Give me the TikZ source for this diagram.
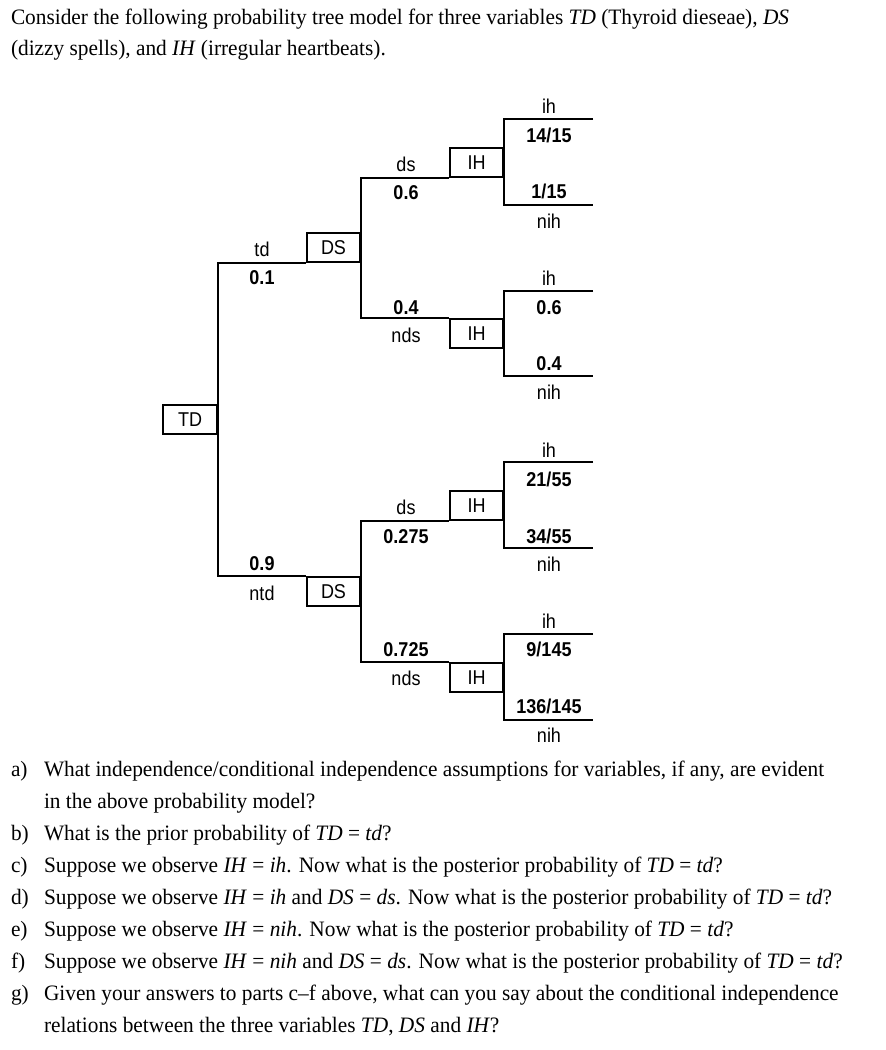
\documentclass[tikz,border=0pt]{standalone}
\usepackage{fontspec}
\setmainfont[FakeStretch=0.97]{Liberation Serif}
\newfontfamily\treefont[FakeStretch=0.9]{Liberation Sans}
\begin{document}
\begin{tikzpicture}[x=1pt, y=-1pt, line width=2pt,
    varbox/.style={draw, rectangle, minimum width=53pt, minimum height=29pt, inner sep=0pt,
      font=\treefont\fontsize{20}{20}\selectfont},
    lbl/.style={inner sep=0pt, text height=14pt, text depth=0pt,
      font=\treefont\fontsize{20}{20}\selectfont},
    prob/.style={lbl, font=\treefont\bfseries\fontsize{20}{20}\selectfont},
    body/.style={anchor=base west, inner sep=0pt, font=\fontsize{22}{32}\selectfont}]
\useasboundingbox (0,0) rectangle (886,1050);

% intro text
\node[body] (intro1) at (10,24) {Consider the following probability tree model for three variables \textit{TD} (Thyroid dieseae), \textit{DS}};
\node[body] (intro2) at (10,55) {(dizzy spells), and \textit{IH} (irregular heartbeats).};

% variable boxes
\node[varbox, minimum width=54pt] (td) at (190,419.5) {TD};
\node[varbox] (dsA) at (333.5,247.5) {DS};
\node[varbox] (dsB) at (333.5,591.5) {DS};
\node[varbox] (ihA) at (476.5,162.5) {IH};
\node[varbox] (ihB) at (476.5,333.5) {IH};
\node[varbox] (ihC) at (476.5,505.5) {IH};
\node[varbox] (ihD) at (476.5,677.5) {IH};

% leaf ends
\coordinate (leafA1) at (593,119);
\coordinate (leafA2) at (593,205);
\coordinate (leafB1) at (593,291);
\coordinate (leafB2) at (593,376);
\coordinate (leafC1) at (593,462);
\coordinate (leafC2) at (593,548);
\coordinate (leafD1) at (593,634);
\coordinate (leafD2) at (593,720);

% branches
\draw (dsA.south west) -| (td.east) |- (dsB.north west);
\draw (ihA.south west) -| (dsA.south east) |- (ihB.north west);
\draw (ihC.south west) -| (dsB.north east) |- (ihD.north west);
\draw (leafA1) -| (ihA.south east) |- (leafA2);
\draw (leafB1) -| (ihB.north east) |- (leafB2);
\draw (leafC1) -| (ihC.south east) |- (leafC2);
\draw (leafD1) -| (ihD.north east) |- (leafD2);

% TD labels
\node[lbl] (ltd) at (262,249) {td};
\node[prob] (ptd) at (262,277) {0.1};
\node[prob] (pntd) at (262,563) {0.9};
\node[lbl] (lntd) at (262,593) {ntd};

% DS labels
\node[lbl] (ldsA) at (406,164) {ds};
\node[prob] (pdsA) at (406,192) {0.6};
\node[prob] (pndsA) at (406,307) {0.4};
\node[lbl] (lndsA) at (406,335) {nds};
\node[lbl] (ldsB) at (406,507) {ds};
\node[prob] (pdsB) at (406,536) {0.275};
\node[prob] (pndsB) at (406,649) {0.725};
\node[lbl] (lndsB) at (406,678) {nds};

% IH labels
\node[lbl] (lihA) at (549,106) {ih};
\node[prob] (pihA) at (549,135) {14/15};
\node[prob] (pnihA) at (549,191) {1/15};
\node[lbl] (lnihA) at (549,221) {nih};
\node[lbl] (lihB) at (549,278) {ih};
\node[prob] (pihB) at (549,307) {0.6};
\node[prob] (pnihB) at (549,363) {0.4};
\node[lbl] (lnihB) at (549,392) {nih};
\node[lbl] (lihC) at (549,450) {ih};
\node[prob] (pihC) at (549,479) {21/55};
\node[prob] (pnihC) at (549,536) {34/55};
\node[lbl] (lnihC) at (549,564) {nih};
\node[lbl] (lihD) at (549,621) {ih};
\node[prob] (pihD) at (549,649) {9/145};
\node[prob] (pnihD) at (549,706) {136/145};
\node[lbl] (lnihD) at (549,735) {nih};

% questions
\node[body] (qa) at (10,776) {a)};
\node[body] (ta) at (43,776) {What independence/conditional independence assumptions for variables, if any, are evident};
\node[body] (ta2) at (43,808) {in the above probability model?};
\node[body] (qb) at (10,840) {b)};
\node[body] (tb) at (43,840) {What is the prior probability of \textit{TD} = \textit{td}?};
\node[body] (qc) at (10,872) {c)};
\node[body] (tc) at (43,872) {Suppose we observe \textit{IH} = \textit{ih}. Now what is the posterior probability of \textit{TD} = \textit{td}?};
\node[body] (qd) at (10,904) {d)};
\node[body] (td2) at (43,904) {Suppose we observe \textit{IH} = \textit{ih} and \textit{DS} = \textit{ds}. Now what is the posterior probability of \textit{TD} = \textit{td}?};
\node[body] (qe) at (10,936) {e)};
\node[body] (te) at (43,936) {Suppose we observe \textit{IH} = \textit{nih}. Now what is the posterior probability of \textit{TD} = \textit{td}?};
\node[body] (qf) at (10,968) {f)};
\node[body] (tf) at (43,968) {Suppose we observe \textit{IH} = \textit{nih} and \textit{DS} = \textit{ds}. Now what is the posterior probability of \textit{TD} = \textit{td}?};
\node[body] (qg) at (10,1000) {g)};
\node[body] (tg) at (43,1000) {Given your answers to parts c--f above, what can you say about the conditional independence};
\node[body] (tg2) at (43,1032) {relations between the three variables \textit{TD}, \textit{DS} and \textit{IH}?};
\end{tikzpicture}
\end{document}
